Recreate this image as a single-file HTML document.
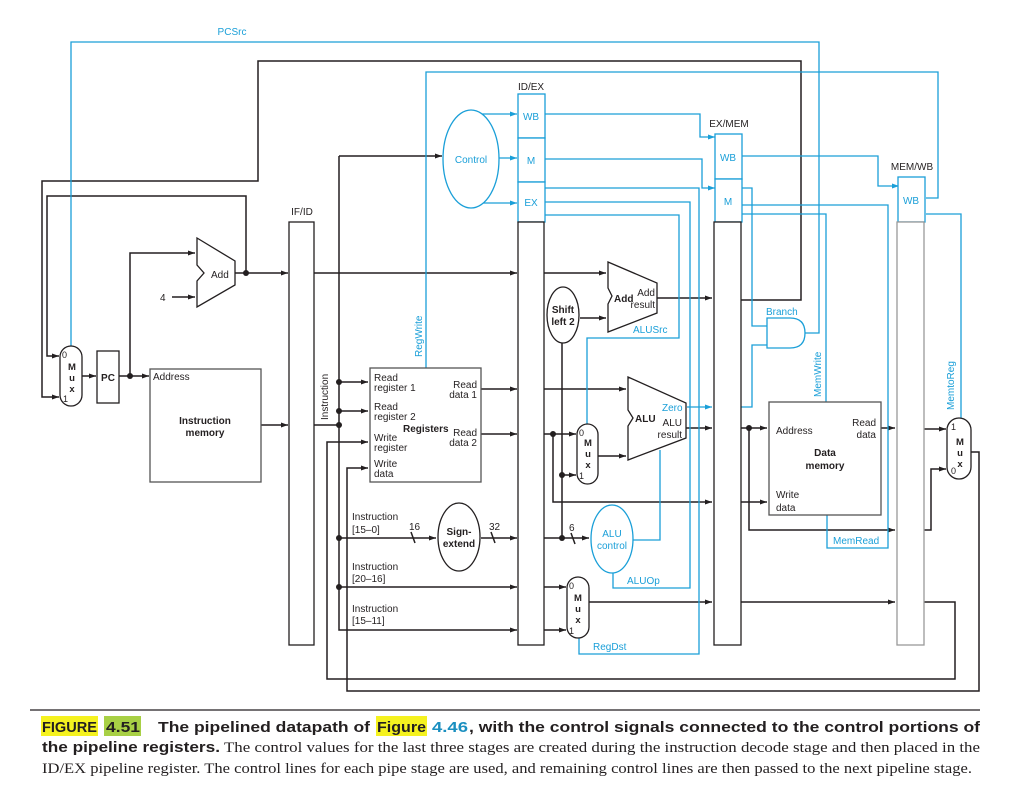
<!DOCTYPE html>
<html><head><meta charset="utf-8"><style>
html,body{margin:0;padding:0;background:#fff;}
svg{display:block;}
.s{font-family:"Liberation Sans",sans-serif;}
.r{font-family:"Liberation Serif",serif;}
</style></head><body>
<svg width="1024" height="802" viewBox="0 0 1024 802" xmlns="http://www.w3.org/2000/svg">
<defs>
<marker id="a" viewBox="0 0 10 10" refX="10" refY="5" markerWidth="7" markerHeight="7" orient="auto" markerUnits="userSpaceOnUse"><path d="M0,1.5 L10,5 L0,8.5z" fill="#231f20"/></marker>
<marker id="b" viewBox="0 0 10 10" refX="10" refY="5" markerWidth="7" markerHeight="7" orient="auto" markerUnits="userSpaceOnUse"><path d="M0,1.5 L10,5 L0,8.5z" fill="#1a9fd8"/></marker>
</defs>
<rect width="1024" height="802" fill="#fff"/>

<g fill="none" stroke="#231f20" stroke-width="1.5">
<path d="M741,300 H801 V61 H258 V181 H42 V397 H59" marker-end="url(#a)"/>
<path d="M246,273 V196 H47 V356 H59" marker-end="url(#a)"/>
<path d="M82,376 H96" marker-end="url(#a)"/>
<path d="M119,376 H149" marker-end="url(#a)"/>
<path d="M130,376 V253 H195" marker-end="url(#a)"/>
<path d="M172,297 H195" marker-end="url(#a)"/>
<path d="M235,273 H288" marker-end="url(#a)"/>
<path d="M261,425 H288" marker-end="url(#a)"/>
<path d="M314,273 H517" marker-end="url(#a)"/>
<path d="M314,425 H339"/>
<path d="M339,156 V630 H517" marker-end="url(#a)"/>
<path d="M339,156 H442" marker-end="url(#a)"/>
<path d="M339,382 H368" marker-end="url(#a)"/>
<path d="M339,411 H368" marker-end="url(#a)"/>
<path d="M339,538 H436" marker-end="url(#a)"/>
<path d="M339,587 H517" marker-end="url(#a)"/>
<path d="M481,538 H517" marker-end="url(#a)"/>
<path d="M481,389 H517" marker-end="url(#a)"/>
<path d="M481,434 H517" marker-end="url(#a)"/>
<path d="M924,602 H955 V679 H327 V442 H368" marker-end="url(#a)"/>
<path d="M971,452 H979 V691 H347 V468 H368" marker-end="url(#a)"/>
<path d="M544,273 H606" marker-end="url(#a)"/>
<path d="M580,318 H606" marker-end="url(#a)"/>
<path d="M657,298 H712" marker-end="url(#a)"/>
<path d="M544,389 H626" marker-end="url(#a)"/>
<path d="M544,434 H576" marker-end="url(#a)"/>
<path d="M553,434 V502 H712" marker-end="url(#a)"/>
<path d="M562,343 V538"/>
<path d="M562,475 H576" marker-end="url(#a)"/>
<path d="M544,538 H589" marker-end="url(#a)"/>
<path d="M598,456 H626" marker-end="url(#a)"/>
<path d="M686,428 H712" marker-end="url(#a)"/>
<path d="M544,587 H566" marker-end="url(#a)"/>
<path d="M544,630 H566" marker-end="url(#a)"/>
<path d="M589,602 H712" marker-end="url(#a)"/>
<path d="M741,428 H767" marker-end="url(#a)"/>
<path d="M749,428 V530 H895" marker-end="url(#a)"/>
<path d="M741,502 H767" marker-end="url(#a)"/>
<path d="M881,428 H895" marker-end="url(#a)"/>
<path d="M741,602 H895" marker-end="url(#a)"/>
<path d="M924,429 H946" marker-end="url(#a)"/>
<path d="M924,530 H931 V469 H946" marker-end="url(#a)"/>
<path d="M411,532 L415,543 M491,532 L495,543 M571,533 L575,544"/>
</g>
<g fill="#231f20">
<circle cx="130" cy="376" r="3"/><circle cx="246" cy="273" r="3"/>
<circle cx="339" cy="382" r="3"/><circle cx="339" cy="411" r="3"/><circle cx="339" cy="425" r="3"/>
<circle cx="339" cy="538" r="3"/><circle cx="339" cy="587" r="3"/>
<circle cx="553" cy="434" r="3"/><circle cx="562" cy="475" r="3"/><circle cx="562" cy="538" r="3"/>
<circle cx="749" cy="428" r="3"/>
</g>

<g fill="none" stroke="#1a9fd8" stroke-width="1.3">
<path d="M71,346 V42 H819 V333 H803"/>
<path d="M426,368 V72 H938 V198 H926"/>
<path d="M481,114 H517" marker-end="url(#b)"/>
<path d="M499,158 H517" marker-end="url(#b)"/>
<path d="M481,203 H517" marker-end="url(#b)"/>
<path d="M545,114 H700 V137 H715" marker-end="url(#b)"/>
<path d="M545,159 H702 V188 H715" marker-end="url(#b)"/>
<path d="M545,188 H699 V654 H579 V638"/>
<path d="M545,202 H690 V588 H613 V573"/>
<path d="M545,215 H679 V338 H587 V424"/>
<path d="M742,156 H878 V186 H899" marker-end="url(#b)"/>
<path d="M742,188 H752 V326 H767"/>
<path d="M742,205 H888 V548 H827 V515"/>
<path d="M742,214 H826 V402"/>
<path d="M926,214 H961 V418"/>
<path d="M687,407 H712" marker-end="url(#b)"/>
<path d="M741,407 H752 V345 H767"/>
<path d="M633,540 H660 V450"/>
<ellipse cx="471" cy="159" rx="28" ry="49" fill="#fff"/>
<ellipse cx="612" cy="539" rx="21" ry="34" fill="#fff"/>
<path d="M767,318 H790 Q805,318 805,333 Q805,348 790,348 H767 Z" fill="#fff"/>
<rect x="518" y="94" width="27" height="44" fill="#fff"/>
<rect x="518" y="138" width="27" height="44" fill="#fff"/>
<rect x="518" y="182" width="27" height="40" fill="#fff"/>
<rect x="715" y="134" width="27" height="45" fill="#fff"/>
<rect x="715" y="179" width="27" height="43" fill="#fff"/>
<rect x="898" y="177" width="27" height="45" fill="#fff"/>
</g>

<g fill="#fff" stroke="#231f20" stroke-width="1.3">
<rect x="60" y="346" width="22" height="60" rx="11"/>
<rect x="97" y="351" width="22" height="52"/>
<path d="M197,238 L235,261 L235,285 L197,307 L197,281 L204,273 L197,265 Z"/>
<rect x="150" y="369" width="111" height="113" stroke="#555"/>
<rect x="289" y="222" width="25" height="423"/>
<rect x="370" y="368" width="111" height="114" stroke="#555"/>
<ellipse cx="459" cy="537" rx="21" ry="34"/>
<rect x="518" y="222" width="26" height="423"/>
<path d="M608,262 L657,283 L657,313 L608,332 L608,304 L612,296 L608,288 Z"/>
<ellipse cx="563" cy="315" rx="16" ry="28"/>
<rect x="577" y="424" width="21" height="60" rx="10.5"/>
<path d="M628,377 L686,403 L686,438 L628,460 L628,426 L633,418 L628,410 Z"/>
<rect x="567" y="577" width="22" height="61" rx="11"/>
<rect x="714" y="222" width="27" height="423"/>
<rect x="769" y="402" width="112" height="113" stroke="#555"/>
<rect x="897" y="222" width="27" height="423" stroke="#999" fill="#fff"/>
<rect x="947" y="418" width="24" height="61" rx="12"/>
</g>

<g font-size="10" fill="#231f20" class="s">
<text x="302" y="215" text-anchor="middle">IF/ID</text>
<text x="531" y="90" text-anchor="middle">ID/EX</text>
<text x="729" y="127" text-anchor="middle">EX/MEM</text>
<text x="912" y="170" text-anchor="middle">MEM/WB</text>
<text x="211" y="278">Add</text>
<text x="160" y="301">4</text>
<text x="153" y="380">Address</text>
<text x="205" y="424" text-anchor="middle" font-weight="bold">Instruction</text>
<text x="205" y="436" text-anchor="middle" font-weight="bold">memory</text>
<text x="108" y="381" text-anchor="middle" font-weight="bold">PC</text>
<text transform="translate(328,420) rotate(-90)">Instruction</text>
<text x="374" y="381">Read</text><text x="374" y="391">register 1</text>
<text x="374" y="410">Read</text><text x="374" y="420">register 2</text>
<text x="374" y="441">Write</text><text x="374" y="451">register</text>
<text x="374" y="467">Write</text><text x="374" y="477">data</text>
<text x="477" y="388" text-anchor="end">Read</text><text x="477" y="398" text-anchor="end">data 1</text>
<text x="477" y="436" text-anchor="end">Read</text><text x="477" y="446" text-anchor="end">data 2</text>
<text x="403" y="432" font-weight="bold">Registers</text>
<text x="352" y="520">Instruction</text><text x="352" y="533">[15–0]</text>
<text x="352" y="570">Instruction</text><text x="352" y="582">[20–16]</text>
<text x="352" y="612">Instruction</text><text x="352" y="624">[15–11]</text>
<text x="409" y="530">16</text><text x="489" y="530">32</text><text x="569" y="531">6</text>
<text x="459" y="535" text-anchor="middle" font-weight="bold">Sign-</text>
<text x="459" y="547" text-anchor="middle" font-weight="bold">extend</text>
<text x="563" y="313" text-anchor="middle" font-weight="bold">Shift</text>
<text x="563" y="325" text-anchor="middle" font-weight="bold">left 2</text>
<text x="614" y="302" font-weight="bold">Add</text>
<text x="655" y="296" text-anchor="end">Add</text><text x="655" y="308" text-anchor="end">result</text>
<text x="635" y="422" font-weight="bold">ALU</text>
<text x="682" y="426" text-anchor="end">ALU</text><text x="682" y="438" text-anchor="end">result</text>
<text x="776" y="434">Address</text>
<text x="876" y="426" text-anchor="end">Read</text><text x="876" y="438" text-anchor="end">data</text>
<text x="825" y="456" text-anchor="middle" font-weight="bold">Data</text>
<text x="825" y="469" text-anchor="middle" font-weight="bold">memory</text>
<text x="776" y="498">Write</text><text x="776" y="511">data</text>
<g font-size="9"><text x="62" y="358">0</text><text x="63" y="402">1</text>
<text x="579" y="436">0</text><text x="579" y="479">1</text>
<text x="569" y="589">0</text><text x="569" y="634">1</text>
<text x="951" y="430">1</text><text x="951" y="474">0</text></g>
<g font-weight="bold" font-size="9.5" text-anchor="middle">
<text x="72" y="370">M</text><text x="72" y="381">u</text><text x="72" y="392">x</text>
<text x="588" y="446">M</text><text x="588" y="457">u</text><text x="588" y="468">x</text>
<text x="578" y="601">M</text><text x="578" y="612">u</text><text x="578" y="623">x</text>
<text x="960" y="445">M</text><text x="960" y="456">u</text><text x="960" y="467">x</text>
</g>
</g>

<g font-size="10" fill="#1a9fd8" class="s">
<text x="232" y="35" text-anchor="middle">PCSrc</text>
<text x="471" y="163" text-anchor="middle">Control</text>
<text x="531" y="120" text-anchor="middle">WB</text>
<text x="531" y="164" text-anchor="middle">M</text>
<text x="531" y="206" text-anchor="middle">EX</text>
<text x="728" y="161" text-anchor="middle">WB</text>
<text x="728" y="205" text-anchor="middle">M</text>
<text x="911" y="204" text-anchor="middle">WB</text>
<text transform="translate(422,357) rotate(-90)">RegWrite</text>
<text transform="translate(821,397) rotate(-90)">MemWrite</text>
<text transform="translate(954,410) rotate(-90)">MemtoReg</text>
<text x="633" y="333">ALUSrc</text>
<text x="766" y="315">Branch</text>
<text x="662" y="411">Zero</text>
<text x="612" y="537" text-anchor="middle">ALU</text>
<text x="612" y="549" text-anchor="middle">control</text>
<text x="627" y="584">ALUOp</text>
<text x="593" y="650">RegDst</text>
<text x="833" y="544">MemRead</text>
</g>

<line x1="30" y1="710" x2="980" y2="710" stroke="#231f20" stroke-width="1.2"/>
<rect x="41" y="716" width="57" height="20" fill="#f5f21f"/>
<rect x="104" y="716" width="37" height="20" fill="#a8d045"/>
<rect x="376" y="716" width="51" height="20" fill="#f5f21f"/>
<g class="s" font-size="15" font-weight="bold" fill="#231f20">
<text x="42" y="732" textLength="55" lengthAdjust="spacingAndGlyphs">FIGURE</text>
<text x="106" y="732" textLength="34" lengthAdjust="spacingAndGlyphs">4.51</text>
<text x="158" y="732" textLength="212" lengthAdjust="spacingAndGlyphs">The pipelined datapath of</text>
<text x="377" y="732" textLength="49" lengthAdjust="spacingAndGlyphs">Figure</text>
<text x="432" y="732" textLength="36" lengthAdjust="spacingAndGlyphs" fill="#1a8fc0">4.46</text>
<text x="469" y="732" textLength="511" lengthAdjust="spacingAndGlyphs">, with the control signals connected to the control portions of</text>
<text x="42" y="752" textLength="178" lengthAdjust="spacingAndGlyphs">the pipeline registers.</text>
</g>
<g class="r" font-size="15" fill="#231f20">
<text x="224" y="752" textLength="756" lengthAdjust="spacingAndGlyphs">The control values for the last three stages are created during the instruction decode stage and then placed in the</text>
<text x="42" y="773" textLength="930" lengthAdjust="spacingAndGlyphs">ID/EX pipeline register. The control lines for each pipe stage are used, and remaining control lines are then passed to the next pipeline stage.</text>
</g>
</svg>
</body></html>
